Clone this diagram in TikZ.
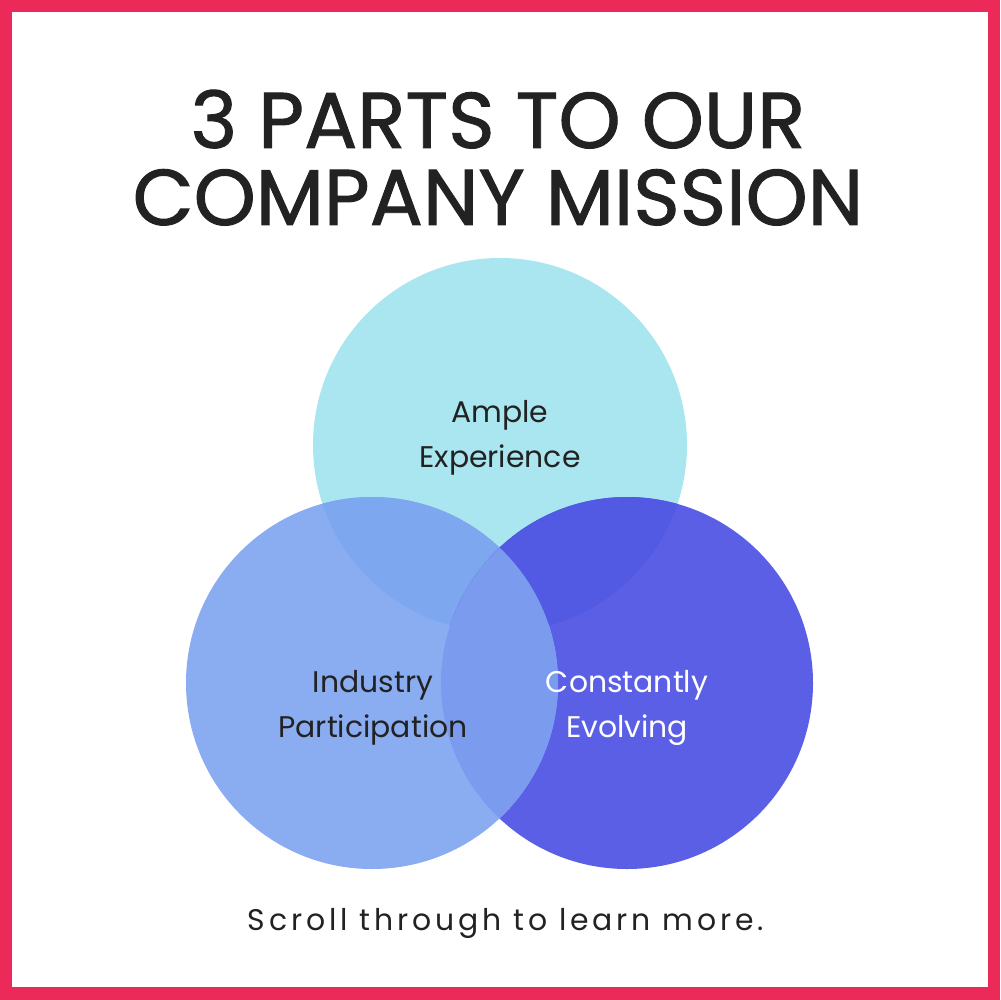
\documentclass[tikz,border=0pt]{standalone}
\usepackage{fontspec}
\setmainfont{Poppins}
\definecolor{frame}{HTML}{EC2A5A}
\definecolor{ctop}{HTML}{A9E6F0}
\definecolor{cleft}{HTML}{8AADF2}
\definecolor{cright}{HTML}{5B5FE6}
\definecolor{ctl}{HTML}{7DA7EF}
\definecolor{ctr}{HTML}{5259E2}
\definecolor{clr}{HTML}{7B9CEE}
\definecolor{ink}{HTML}{222222}
\begin{document}
\begin{tikzpicture}[x=0.02cm,y=-0.02cm,
  title/.style={anchor=base,font=\fontsize{45}{45}\selectfont\addfontfeatures{FakeBold=1.2},text=ink,inner sep=0pt},
  lbl/.style={anchor=base,font=\fontsize{17}{17}\selectfont,text=ink,inner sep=0pt},
  wlbl/.style={lbl,text=white}]
\useasboundingbox (0,0) rectangle (1000,1000);
\fill[frame] (0,0) rectangle (1000,1000);
\fill[white] (12,12) rectangle (988,987);
% circles
\def\ctopc{(500,445) circle (187)}
\def\cleftc{(372,683) circle (186)}
\def\crightc{(627,683) circle (186)}
\fill[ctop] \ctopc;
\fill[cright] \crightc;
\fill[cleft] \cleftc;
\begin{scope}\clip \ctopc; \fill[ctl] \cleftc; \end{scope}
\begin{scope}\clip \ctopc; \fill[ctr] \crightc; \end{scope}
\begin{scope}\clip \cleftc; \fill[clr] \crightc; \end{scope}
% title
\node[title] (t1) at (498,148) {3 PARTS TO OUR};
\node[title] (t2) at (498,225) {COMPANY MISSION};
% labels
\node[lbl] (a1) at (500,422) {Ample};
\node[lbl] (a2) at (500,467) {Experience};
\node[lbl] (i1) at (373,692) {Industry};
\node[lbl] (i2) at (373,737) {Participation};
\node[wlbl] (c1) at (627,692) {Constantly};
\node[wlbl] (c2) at (627,737) {Evolving};
\node[lbl,font=\fontsize{17}{17}\selectfont\addfontfeatures{LetterSpace=13}] (s) at (506,930) {Scroll through to learn more.};
\end{tikzpicture}
\end{document}
